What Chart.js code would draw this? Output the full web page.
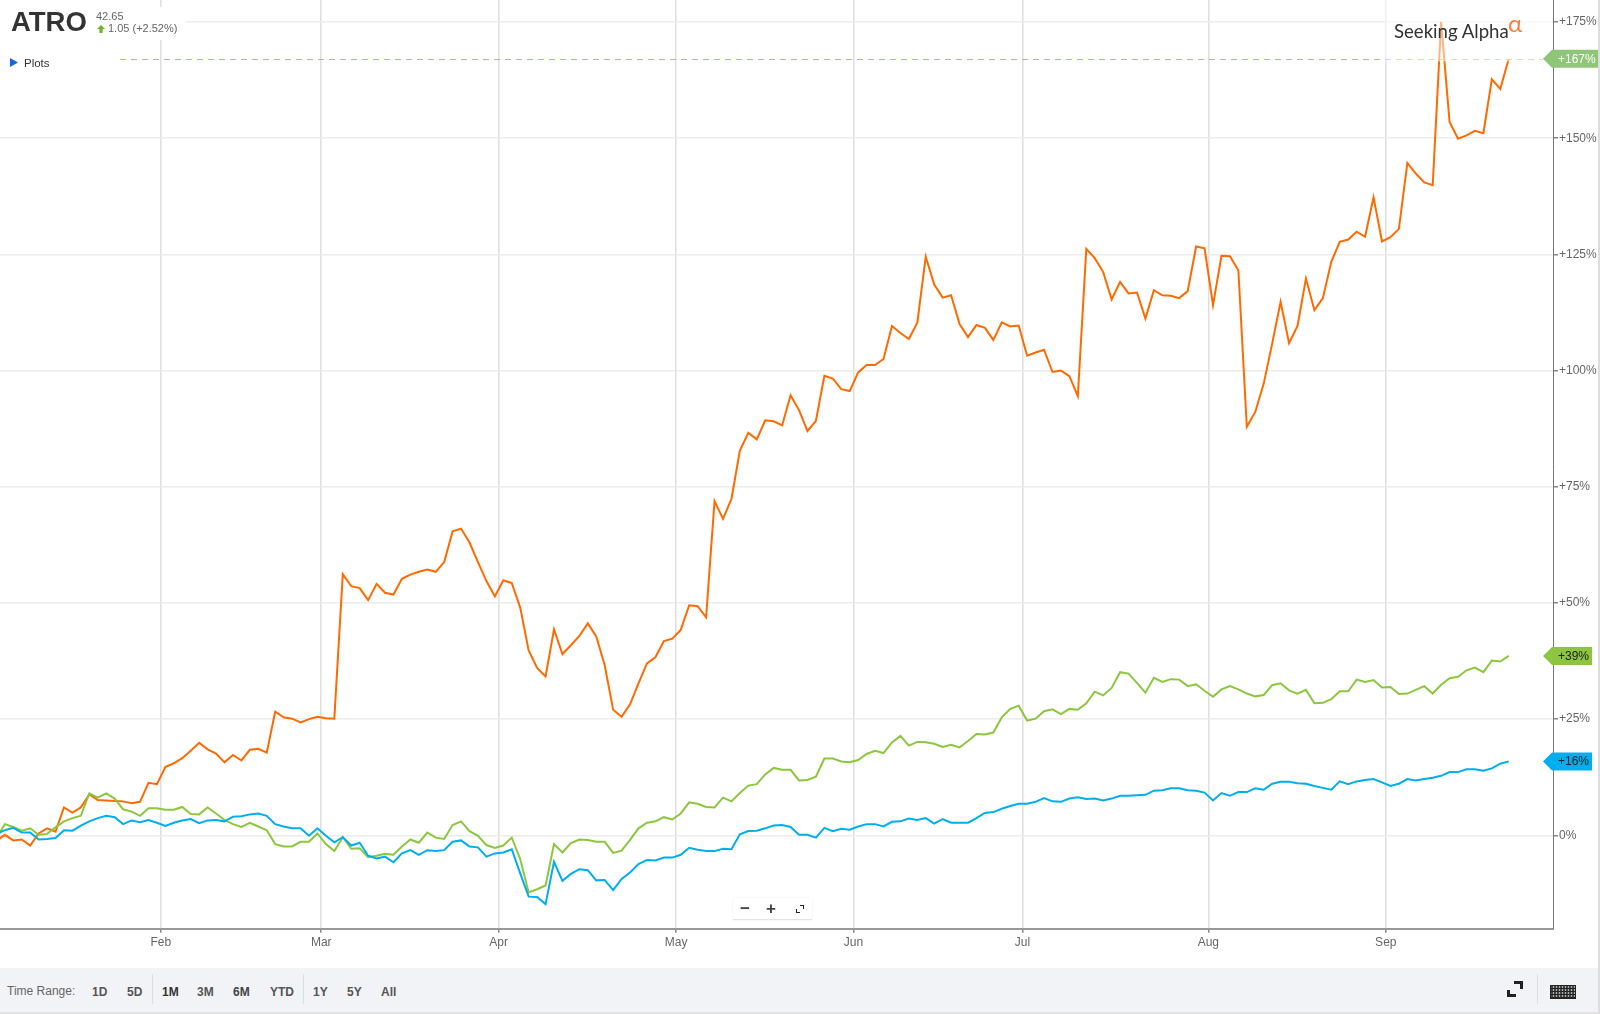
<!DOCTYPE html>
<html>
<head>
<meta charset="utf-8">
<title>ATRO</title>
<script src="https://cdn.jsdelivr.net/npm/chart.js@4/dist/chart.umd.min.js"></script>
<style>
  html, body { margin: 0; padding: 0; background: #fff; }
  body { width: 1600px; height: 1014px; position: relative; overflow: hidden; font-family: "Liberation Sans", Arial, sans-serif; }
  canvas { position: absolute; left: 0; top: 0; }
  .abs { position: absolute; white-space: nowrap; line-height: 1; }
  .box { position: absolute; background: #fff; }
  .bar { position: absolute; left: 0; top: 968px; width: 1600px; height: 44px; background: #f1f3f7; border-bottom: 2px solid #e2e2e2; }
  .range { position: absolute; top: 986px; font-size: 12px; font-weight: bold; color: #555; line-height: 1; }
  .sep { position: absolute; top: 974px; width: 1px; height: 30px; background: #dcdee2; }
  .zoomctl { position: absolute; left: 733px; top: 898px; width: 79px; height: 21px; background: #fff; border-bottom: 1px solid #e4e4e4; box-shadow: 0 0 2px #e8e8e8; }
  .zoomctl span { position: absolute; top: 2px; font-size: 17px; font-weight: bold; color: #444; line-height: 1; }
  .corner { position: absolute; border: 0 solid #222; }
</style>
</head>
<body>
<canvas id="atroChart" width="1600" height="1014"></canvas>

<div class="box" style="left:0;top:7px;width:186px;height:33px"></div>
<div class="box" style="left:0;top:47px;width:118px;height:23px"></div>
<div class="abs" style="left:11px;top:8px;font-size:27.5px;font-weight:bold;color:#333">ATRO</div>
<div class="abs" style="left:96px;top:11px;font-size:11px;color:#666">42.65</div>
<div class="abs" style="left:97px;top:25px;width:8px;height:8px;background:#6fb52c;clip-path:polygon(50% 0,100% 50%,70% 50%,70% 100%,30% 100%,30% 50%,0 50%)"></div>
<div class="abs" style="left:108px;top:23px;font-size:11px;color:#666">1.05 (+2.52%)</div>
<div class="abs" style="left:10px;top:58px;width:8px;height:9px;background:#1a66d6;clip-path:polygon(0 0,100% 50%,0 100%)"></div>
<div class="abs" style="left:24px;top:58px;font-size:11.5px;color:#333">Plots</div>

<div class="abs" style="left:1394px;top:22px;font-family:Lato,sans-serif;font-size:18.6px;color:#333">Seeking Alpha</div>
<div class="abs" style="left:1508px;top:11px;font-family:Lato,sans-serif;font-size:24px;color:#ff7d3b">α</div>

<div class="zoomctl">
  <span style="left:7px">−</span>
  <span style="left:33px">+</span>
  <div class="corner" style="left:67px;top:7px;width:3px;height:3px;border-top-width:1px;border-right-width:1px"></div>
  <div class="corner" style="left:63px;top:11px;width:3px;height:3px;border-bottom-width:1px;border-left-width:1px"></div>
</div>

<div class="bar"></div>
<div class="abs" style="left:7px;top:985px;font-size:12px;color:#666">Time Range:</div>
<div class="range" style="left:92px">1D</div>
<div class="range" style="left:127px">5D</div>
<div class="sep" style="left:152px"></div>
<div class="range" style="left:162px;color:#333">1M</div>
<div class="range" style="left:197px">3M</div>
<div class="range" style="left:233px;color:#444">6M</div>
<div class="range" style="left:270px">YTD</div>
<div class="sep" style="left:303px"></div>
<div class="range" style="left:313px">1Y</div>
<div class="range" style="left:347px">5Y</div>
<div class="range" style="left:381px">All</div>

<div class="corner" style="left:1514px;top:981px;width:6px;height:5px;border-top-width:3px;border-right-width:3px"></div>
<div class="corner" style="left:1507px;top:990px;width:6px;height:4px;border-bottom-width:3px;border-left-width:3px"></div>
<div class="sep" style="left:1537px"></div>
<div class="abs" style="left:1550px;top:985px;width:26px;height:14px;background:repeating-linear-gradient(0deg,#222 0 1px,transparent 1px 3px),repeating-linear-gradient(90deg,#444 0 2px,#aaa 2px 3px);border:1px solid #222;box-sizing:border-box"></div>
<div class="abs" style="left:1598px;top:0;width:2px;height:1014px;background:#ddd"></div>

<script>
// % change, one value per trading day
const atroValues = [
  -1.2, 0.1, -1.1, -0.9, -2.2, 0.4, 1.5, 0.8, 6.0, 4.9, 6.0, 8.8, 7.6, 7.5, 7.4, 7.3, 6.9, 7.2, 11.3, 11.0,
  14.7, 15.5, 16.6, 18.2, 19.9, 18.5, 17.6, 15.7, 17.3, 16.1, 18.4, 18.6, 17.8, 26.6, 25.4, 25.1, 24.3, 25.0, 25.5, 25.2,
  25.1, 56.2, 53.6, 53.2, 50.6, 54.1, 52.2, 51.8, 55.2, 56.1, 56.7, 57.2, 56.7, 58.8, 65.4, 66.0, 63.0, 58.8, 54.7, 51.4,
  54.9, 54.3, 49.0, 39.8, 36.0, 34.2, 44.3, 39.0, 40.9, 42.9, 45.6, 42.8, 36.6, 27.0, 25.5, 28.2, 32.7, 37.0, 38.3, 41.8,
  42.3, 44.2, 49.5, 49.3, 46.9, 71.9, 68.1, 72.4, 82.8, 86.6, 85.2, 89.3, 89.1, 88.2, 94.7, 91.5, 87.0, 89.2, 98.9, 98.3,
  96.0, 95.6, 99.6, 101.2, 101.2, 102.5, 109.6, 108.1, 106.8, 110.3, 124.5, 118.5, 115.7, 116.2, 110.0, 107.2, 109.8, 109.2, 106.6, 110.4,
  109.5, 109.7, 103.2, 103.9, 104.5, 99.7, 100.0, 98.8, 94.5, 126.2, 124.2, 121.2, 115.3, 119.1, 116.6, 116.8, 111.2, 117.3, 116.2, 116.1,
  115.6, 117.1, 126.7, 126.3, 114.1, 124.7, 124.6, 121.6, 87.9, 91.1, 97.2, 105.8, 114.8, 105.9, 109.6, 119.8, 113.0, 115.6, 123.4, 127.7,
  128.2, 129.9, 128.8, 137.3, 127.8, 128.7, 130.5, 144.7, 142.4, 140.5, 139.9, 175.0, 153.5, 149.9, 150.6, 151.6, 151.1, 162.7, 160.6, 167.1
];
const greenValues = [
  -0.6, 2.4, 1.8, 1.0, 1.5, 0.1, 0.3, 1.7, 3.0, 3.7, 4.2, 9.0, 8.1, 9.0, 7.9, 5.6, 5.1, 4.2, 5.8, 5.8,
  5.5, 5.5, 6.1, 4.6, 4.5, 6.0, 4.7, 3.3, 2.4, 1.8, 2.7, 1.9, 1.1, -1.9, -2.4, -2.4, -1.4, -1.4, 0.4, -1.9,
  -3.4, -0.4, -2.9, -2.8, -4.7, -4.4, -4.0, -4.2, -2.4, -0.9, -1.6, 0.6, -0.5, -0.8, 2.2, 3.0, 0.9, -0.1, -2.1, -2.7,
  -2.2, -0.5, -5.1, -12.3, -11.6, -10.8, -1.9, -3.7, -1.7, -0.9, -1.0, -1.4, -1.4, -3.8, -3.3, -1.0, 1.5, 2.7, 3.0, 3.9,
  3.4, 4.7, 7.1, 6.8, 6.1, 6.0, 8.1, 7.3, 9.1, 10.7, 11.0, 13.1, 14.5, 14.1, 14.1, 11.8, 11.9, 12.6, 16.5, 16.5,
  15.9, 15.7, 16.2, 17.5, 18.2, 17.7, 20.0, 21.4, 19.3, 20.1, 20.0, 19.7, 19.0, 19.5, 18.9, 20.3, 21.8, 21.7, 22.1, 25.4,
  27.2, 27.9, 24.7, 25.1, 26.7, 27.1, 26.1, 27.2, 27.0, 28.4, 30.9, 30.1, 31.7, 35.1, 34.8, 32.8, 30.7, 33.9, 33.0, 33.6,
  33.5, 32.1, 32.5, 31.1, 29.8, 31.4, 32.1, 31.4, 30.5, 29.9, 30.2, 32.3, 32.7, 31.2, 30.5, 31.3, 28.4, 28.5, 29.3, 31.0,
  31.0, 33.5, 33.0, 33.4, 31.8, 31.9, 30.4, 30.5, 31.3, 32.1, 30.5, 32.4, 33.8, 34.1, 35.5, 36.1, 35.1, 37.6, 37.4, 38.6
];
const blueValues = [
  0.3, 1.1, 1.6, 0.6, 0.6, -0.9, -0.8, -0.6, 1.1, 1.0, 2.1, 3.0, 3.7, 4.2, 3.9, 2.4, 3.2, 2.8, 3.3, 2.7,
  2.0, 2.7, 3.2, 3.5, 2.6, 3.2, 3.3, 3.0, 4.0, 4.1, 4.5, 4.7, 4.2, 2.4, 1.9, 1.5, 1.5, -0.1, 1.5, -0.1,
  -1.5, -0.4, -2.2, -1.6, -4.4, -5.0, -4.6, -5.8, -3.9, -3.2, -4.2, -3.2, -3.4, -3.2, -1.4, -1.1, -2.4, -2.6, -4.6, -3.9,
  -3.7, -3.0, -8.2, -13.2, -13.3, -14.8, -5.7, -9.8, -8.3, -7.3, -7.5, -9.7, -9.6, -11.8, -9.4, -8.0, -6.2, -5.3, -5.4, -4.8,
  -4.8, -4.2, -2.7, -3.1, -3.4, -3.4, -2.9, -3.0, 0.2, 0.9, 1.0, 1.5, 2.1, 2.2, 1.8, 0.1, 0.1, -0.5, 1.6, 0.9,
  1.4, 1.2, 1.9, 2.4, 2.4, 1.9, 2.9, 3.0, 3.6, 3.3, 3.7, 2.5, 3.5, 2.7, 2.7, 2.7, 3.7, 4.8, 5.0, 5.7,
  6.3, 6.8, 6.8, 7.2, 8.0, 7.3, 7.2, 7.9, 8.2, 7.8, 7.9, 7.5, 7.9, 8.5, 8.5, 8.6, 8.7, 9.6, 9.7, 10.1,
  10.1, 9.7, 9.6, 9.2, 7.5, 9.1, 8.5, 9.3, 9.3, 10.1, 9.8, 11.1, 11.5, 11.5, 11.2, 11.1, 10.6, 10.2, 9.8, 11.6,
  11.0, 11.6, 11.9, 12.1, 11.4, 10.6, 11.1, 12.1, 11.8, 12.1, 12.4, 12.8, 13.6, 13.6, 14.2, 14.2, 13.9, 14.4, 15.4, 15.9
];
const monthLabels = ["Feb", "Mar", "Apr", "May", "Jun", "Jul", "Aug", "Sep"];
const monthStartDay = [19.45, 38.45, 59.45, 80.45, 101.45, 121.45, 143.45, 164.45];
const yTickValues = [0, 25, 50, 75, 100, 125, 150, 175];
const endTags = [
  { label: "+167%", values: atroValues, fill: "#8fc577", text: "#fff" },
  { label: "+39%", values: greenValues, fill: "#8cc63f", text: "#222" },
  { label: "+16%", values: blueValues, fill: "#00aeef", text: "#222" },
];

function asPoints(values) {
  return values.map((y, x) => ({ x, y }));
}

// dashed price line, faded logo box and the coloured end tags
const overlayPlugin = {
  id: "overlay",
  afterDatasetsDraw(chart) {
    const { ctx, scales } = chart;
    const lastValue = atroValues[atroValues.length - 1];
    const lineY = Math.round(scales.y.getPixelForValue(lastValue)) + 0.5;
    ctx.save();
    ctx.strokeStyle = "rgba(139,195,74,0.85)";
    ctx.lineWidth = 1;
    ctx.setLineDash([6, 5]);
    ctx.beginPath();
    ctx.moveTo(120, lineY);
    ctx.lineTo(1543, lineY);
    ctx.stroke();
    ctx.setLineDash([]);

    ctx.fillStyle = "rgba(255,255,255,0.5)";
    ctx.fillRect(1385, 0, 167, lineY + 2);

    ctx.font = '12px "Liberation Sans", Arial, sans-serif';
    ctx.textAlign = "left";
    ctx.textBaseline = "middle";
    endTags.forEach((tag) => {
      const y = scales.y.getPixelForValue(tag.values[tag.values.length - 1]);
      const right = 1558 + ctx.measureText(tag.label).width + 3;
      ctx.fillStyle = tag.fill;
      ctx.beginPath();
      ctx.moveTo(1543, y);
      ctx.lineTo(1552, y - 9);
      ctx.lineTo(right, y - 9);
      ctx.lineTo(right, y + 9);
      ctx.lineTo(1552, y + 9);
      ctx.closePath();
      ctx.fill();
      ctx.fillStyle = tag.text;
      ctx.fillText(tag.label, 1558, y + 0.5);
    });
    ctx.restore();
  },
};

new Chart(document.getElementById("atroChart"), {
  type: "line",
  data: {
    datasets: [
      { label: "Blue", data: asPoints(blueValues), borderColor: "#00aeef", borderWidth: 2 },
      { label: "Green", data: asPoints(greenValues), borderColor: "#8cc63f", borderWidth: 2 },
      { label: "ATRO", data: asPoints(atroValues), borderColor: "#ff6a00", borderWidth: 2 },
    ],
  },
  options: {
    responsive: false,
    animation: false,
    events: [],
    elements: { point: { radius: 0 }, line: { tension: 0 } },
    layout: { padding: { left: 0, right: 0, top: 0, bottom: 55 } },
    plugins: { legend: { display: false }, tooltip: { enabled: false } },
    scales: {
      x: {
        type: "linear",
        min: 0.428,
        max: 184.24,
        afterFit(scale) {
          scale.height = 30.3;
          scale.paddingLeft = 0;
          scale.paddingRight = 0;
        },
        afterBuildTicks(scale) {
          scale.ticks = monthStartDay.map((value) => ({ value }));
        },
        grid: { color: "#dedede", lineWidth: 1.5, tickLength: 4, tickColor: "#888" },
        border: { color: "#999", width: 2 },
        ticks: {
          autoSkip: false,
          maxRotation: 0,
          padding: 3,
          color: "#666",
          font: { family: '"Liberation Sans", Arial, sans-serif', size: 12 },
          callback: (value) => monthLabels[monthStartDay.indexOf(value)],
        },
      },
      y: {
        position: "right",
        min: -20.1,
        max: 179.75,
        afterFit(scale) {
          scale.width = 47;
          scale.paddingTop = 0;
          scale.paddingBottom = 0;
        },
        afterBuildTicks(scale) {
          scale.ticks = yTickValues.map((value) => ({ value }));
        },
        grid: { color: "#ececec", lineWidth: 1.5, tickLength: 5, tickColor: "#888" },
        border: { color: "#777", width: 1 },
        ticks: {
          autoSkip: false,
          padding: 1,
          color: "#666",
          crossAlign: "near",
          font: { family: '"Liberation Sans", Arial, sans-serif', size: 12 },
          callback: (value) => (value === 0 ? "0%" : "+" + value + "%"),
        },
      },
    },
  },
  plugins: [overlayPlugin],
});
</script>
</body>
</html>
